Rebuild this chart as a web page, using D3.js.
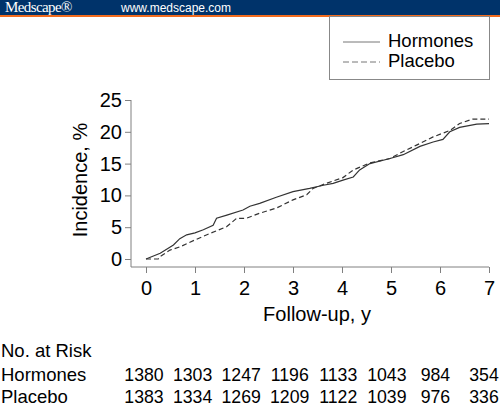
<!DOCTYPE html>
<meta charset="utf-8">
<style>
body { margin: 0; background: #fff; }
svg { display: block; font-family: "Liberation Sans", Arial, sans-serif; }
.axis text { font-size: 20px; fill: #000; }
.axis line, .axis path { stroke: #808080; }
.line { fill: none; stroke: #333; stroke-width: 1.2px; }
.line--placebo { stroke-dasharray: 5,3; }
</style>
<svg width="500" height="408"></svg>
<script src="https://d3js.org/d3.v7.min.js"></script>
<script>

// Kaplan-Meier style cumulative incidence
const hormYears = [0, 0.29, 0.56, 0.69, 0.83, 1.0, 1.17, 1.37, 1.44, 1.65, 1.98, 2.12, 2.32, 2.66, 3.0, 3.34, 3.62, 3.82, 4.02, 4.23, 4.36, 4.57, 4.98, 5.25, 5.59, 5.86, 6.06, 6.2, 6.4, 6.75, 7.0];
const hormValues = [0, 0.9, 2.2, 3.2, 3.8, 4.1, 4.6, 5.3, 6.4, 6.9, 7.7, 8.3, 8.75, 9.7, 10.6, 11.1, 11.6, 11.9, 12.4, 12.9, 14.0, 15.0, 15.8, 16.4, 17.7, 18.4, 18.8, 20.0, 20.7, 21.2, 21.3];

const placYears = [0, 0.25, 0.29, 0.49, 0.69, 1.0, 1.3, 1.65, 1.85, 2.05, 2.32, 2.66, 3.0, 3.28, 3.41, 3.68, 4.02, 4.23, 4.57, 4.98, 5.25, 5.52, 5.86, 6.2, 6.4, 6.67, 7.0];
const placValues = [0, 0, 0.4, 1.4, 1.9, 3.0, 4.0, 5.1, 6.4, 6.4, 7.2, 8.0, 9.3, 10.1, 11.1, 11.9, 12.8, 14.0, 15.1, 15.8, 16.9, 17.9, 19.2, 20.2, 21.3, 22.0, 22.0];

const xTicks = [0, 1, 2, 3, 4, 5, 6, 7];
const yTicks = [0, 5, 10, 15, 20, 25];

const riskLabels = ["Hormones", "Placebo"];
const riskHormones = [1380, 1303, 1247, 1196, 1133, 1043, 984, 354];
const riskPlacebo = [1383, 1334, 1269, 1209, 1122, 1039, 976, 336];

const svg = d3.select("svg");

// header bar
svg.append("rect").attr("x", 0).attr("y", 0).attr("width", 500).attr("height", 15).attr("fill", "#00336a");
svg.append("rect").attr("x", 0).attr("y", 15).attr("width", 500).attr("height", 2).attr("fill", "#f26b1d");
svg.append("text")
    .attr("x", 5).attr("y", 12)
    .attr("fill", "#fff")
    .style("font-family", "'Liberation Serif', 'Times New Roman', serif")
    .style("font-size", "15px")
    .style("letter-spacing", "-0.6px")
    .text("Medscape\u00ae");
svg.append("text")
    .attr("x", 121).attr("y", 12)
    .attr("fill", "#fff")
    .style("font-size", "12px")
    .text("www.medscape.com");

const xScale = d3.scaleLinear().domain([0, 7]).range([146, 489]);
const yScale = d3.scaleLinear().domain([0, 25]).range([259, 100]);
const corner = {x: 131, y: 267};

const line = d3.line()
    .x(d => xScale(d[0]))
    .y(d => yScale(d[1]));

// axes, detached R-style with an L-shaped frame
svg.append("g")
    .attr("class", "axis axis--x")
    .attr("transform", "translate(0," + corner.y + ")")
    .call(d3.axisBottom(xScale).tickValues(xTicks).tickSize(6).tickPadding(8).tickFormat(d3.format("d")))
    .call(g => g.select(".domain").attr("d", "M" + corner.x + ",0H" + xScale(7)));

svg.append("g")
    .attr("class", "axis axis--y")
    .attr("transform", "translate(" + corner.x + ",0)")
    .call(d3.axisLeft(yScale).tickValues(yTicks).tickSize(6).tickPadding(3).tickFormat(d3.format("d")))
    .call(g => g.select(".domain").attr("d", "M0," + corner.y + "V" + yScale(25)));

svg.append("text")
    .attr("transform", "translate(87,180) rotate(-90)")
    .attr("text-anchor", "middle")
    .style("font-size", "20px")
    .text("Incidence, %");

svg.append("text")
    .attr("x", 317).attr("y", 321)
    .attr("text-anchor", "middle")
    .style("font-size", "20px")
    .text("Follow-up, y");

svg.append("path")
    .datum(d3.zip(hormYears, hormValues))
    .attr("class", "line line--hormones")
    .attr("d", line);

svg.append("path")
    .datum(d3.zip(placYears, placValues))
    .attr("class", "line line--placebo")
    .attr("d", line);

// legend
const legend = svg.append("g");
legend.append("rect")
    .attr("x", 329.5).attr("y", 16.5).attr("width", 160).attr("height", 63)
    .attr("fill", "none").attr("stroke", "#888");
riskLabels.forEach((name, i) => {
  const y = 42 + i * 20;
  legend.append("line")
      .attr("x1", 343).attr("x2", 380).attr("y1", y).attr("y2", y)
      .attr("stroke", "#777")
      .attr("stroke-dasharray", i ? "6,3" : null);
  legend.append("text")
      .attr("x", 388).attr("y", y + 5)
      .style("font-size", "18.5px")
      .text(name);
});

// number at risk table
const colScale = d3.scalePoint().domain(d3.range(riskHormones.length)).range([144, 484]);
const rowY = [381, 403];

svg.append("text")
    .attr("x", 1).attr("y", 357)
    .style("font-size", "18.5px")
    .text("No. at Risk");

[riskHormones, riskPlacebo].forEach((row, r) => {
  svg.append("text")
      .attr("x", 1).attr("y", rowY[r])
      .style("font-size", "18.5px")
      .text(riskLabels[r]);
  svg.append("g").selectAll("text")
    .data(row)
    .join("text")
      .attr("x", (d, i) => colScale(i))
      .attr("y", rowY[r])
      .attr("text-anchor", "middle")
      .style("font-size", "17.7px")
      .text(d => d);
});

</script>
